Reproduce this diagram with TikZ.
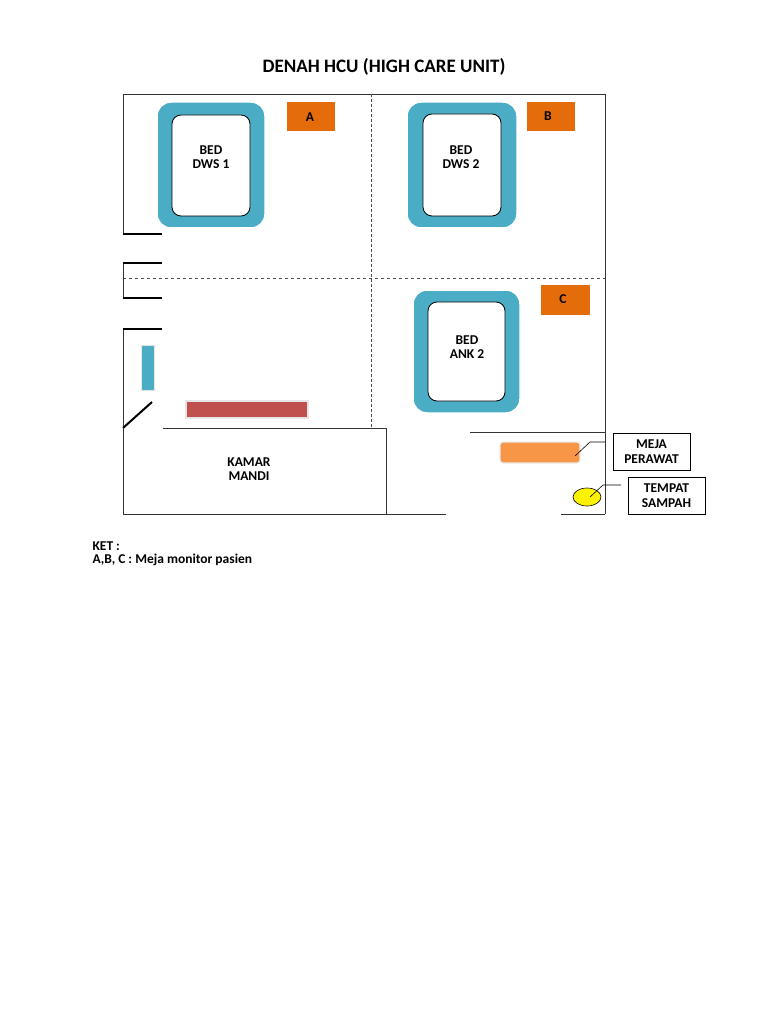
\documentclass[tikz,border=0pt]{standalone}
\usepackage{fontspec}
\setmainfont{Carlito}
\begin{document}
\begin{tikzpicture}[x=1pt,y=-1pt,
  wall/.style={draw=black!80,line width=0.9pt},
  stub/.style={draw=black,line width=2pt},
  bedo/.style={fill={rgb,255:red,75;green,172;blue,198},draw=white,line width=1.5pt,rounded corners=14pt},
  bedi/.style={fill=white,draw=black,line width=0.8pt,rounded corners=9pt},
  mon/.style={fill={rgb,255:red,228;green,108;blue,10}},
  lbl/.style={font=\bfseries\fontsize{13.5}{14.5}\selectfont,align=center},
  box/.style={draw=black,line width=0.8pt,font=\bfseries\fontsize{13.5}{15.5}\selectfont,align=center}]
\useasboundingbox (0,0) rectangle (768,1024);
\node[font=\bfseries\fontsize{19}{21}\selectfont] (title) at (384,67) {DENAH HCU (HIGH CARE UNIT)};
% walls
\draw[wall] (123,234) -- (123,94) -- (605,94) -- (605,514);
\draw[stub] (123,234) -- (162,234);
\draw[wall] (123,263) -- (123,298);
\draw[stub] (123,263) -- (162,263);
\draw[stub] (123,298) -- (162,298);
\draw[wall] (123,428) -- (123,329);
\draw[stub] (123,329) -- (162,329);
\draw[stub] (123,428) -- (152,402);
\draw[wall] (123,428) -- (123,514) -- (446,514);
\draw[wall] (561,514) -- (605,514);
\draw[wall] (163,428) -- (386,428) -- (386,514);
\draw[wall] (470,432) -- (605,432);
\draw[densely dashed,black!70] (371,94) -- (371,428);
\draw[dashed,black!70] (123,278) -- (605,278);
% beds
\path[bedo] (157,102) rectangle (265,228);
\path[bedi] (172,115) rectangle (250,216);
\node[lbl] (b1) at (211,157) {BED\\DWS 1};
\path[bedo] (407,102) rectangle (517,228);
\path[bedi] (423,114) rectangle (501,216);
\node[lbl] (b2) at (461,157) {BED\\DWS 2};
\path[bedo] (413,290) rectangle (520,413);
\path[bedi] (428,302) rectangle (505,401);
\node[lbl] (b3) at (467,347) {BED\\ANK 2};
% monitors
\path[mon] (287,102) rectangle (335,131); \node[lbl] (ma) at (310,117) {A};
\path[mon] (527,102) rectangle (575,131); \node[lbl] (mb) at (548,116) {B};
\path[mon] (541,285) rectangle (590,315); \node[lbl] (mc) at (563,299) {C};
% furniture
\path[fill={rgb,255:red,75;green,172;blue,198},draw=white!80!gray,line width=1pt] (141,345) rectangle (154,390);
\path[fill={rgb,255:red,192;green,80;blue,77},draw=white!80!gray,line width=1.2pt] (186,401) rectangle (308,418);
\path[fill={rgb,255:red,247;green,150;blue,70},draw=white!85!gray,line width=1.2pt,rounded corners=3pt] (500,442) rectangle (580,463);
\path[fill=yellow,draw=black,line width=0.6pt] (587,497) ellipse [x radius=14,y radius=9];
\node[lbl] (km) at (249,469) {KAMAR\\MANDI};
% labels
\node[box,minimum width=77pt,minimum height=37pt] (mp) at (651.5,451.5) {MEJA\\PERAWAT};
\node[box,minimum width=77pt,minimum height=37pt] (ts) at (666.5,495.5) {TEMPAT\\SAMPAH};
\coordinate (d1) at (575,456);
\coordinate (d2) at (590,442);
\coordinate (t1) at (590,497);
\coordinate (t2) at (603,485);
\draw[black,line width=0.6pt] (d1) -- (d2) -- (605,442);
\draw[black,line width=0.6pt] (t1) -- (t2) -- (621,485);
\node[lbl,anchor=west] (ket) at (89,546) {KET :};
\node[lbl,anchor=west] (ket2) at (89,560) {A,B, C : Meja monitor pasien};
\end{tikzpicture}
\end{document}
